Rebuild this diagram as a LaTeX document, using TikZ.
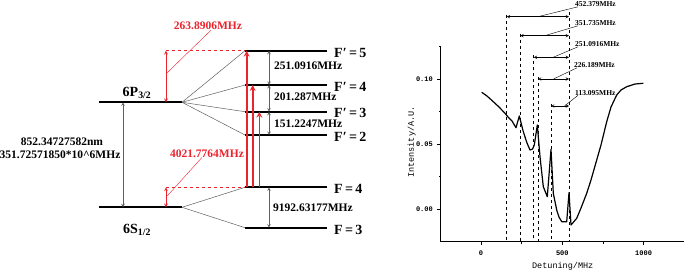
\documentclass[tikz,border=0pt]{standalone}
\usepackage{fontspec}
\setmainfont{Liberation Serif}
\setmonofont{Liberation Mono}
\usepackage{tikz}
\usetikzlibrary{arrows, positioning, calc}
\definecolor{hfred}{RGB}{235,35,45}
\definecolor{fangray}{RGB}{95,95,95}

\begin{document}
\begin{tikzpicture}[
    x=1pt, y=-1pt, >=stealth,
    level/.style={line width=1.8pt, black},
    fan/.style={draw=fangray, line width=0.5pt},
    lvl/.style={font=\fontsize{14}{14}\selectfont\bfseries, inner sep=0pt, anchor=west},
    term/.style={font=\fontsize{14}{14}\selectfont\bfseries, inner sep=0pt},
    freq/.style={font=\fontsize{11.5}{12}\selectfont\bfseries, inner sep=0pt, text=#1},
    freq/.default=black,
    garr/.style={<->, draw=fangray, line width=0.6pt},
    rarr/.style={->, draw=hfred, line width=1.6pt},
    rgap/.style={<->, draw=hfred, line width=0.7pt},
    rdash/.style={dashed, draw=hfred, line width=0.9pt},
    lead/.style={draw=#1, line width=0.4pt},
    axis/.style={black, line width=0.8pt},
    tick/.style={font=\ttfamily\bfseries\fontsize{7}{7}\selectfont, inner sep=0pt},
    axlbl/.style={font=\ttfamily\fontsize{8.5}{9}\selectfont, inner sep=0pt},
    mhz/.style={font=\fontsize{7.5}{8}\selectfont\bfseries, inner sep=0pt, anchor=base west},
    vdash/.style={dashed, black, line width=0.6pt},
    sarr/.style={<->, black, line width=0.5pt},
    curve/.style={black, line width=1.2pt, line join=round},
]
\useasboundingbox (0,0) rectangle (685,271);

% Fine structure levels
\coordinate (p-l) at (99,102.3);  \coordinate (p-r) at (182,102.3);
\coordinate (s-l) at (99,207.3);  \coordinate (s-r) at (182,207.3);
% Hyperfine levels
\coordinate (f5-l) at (245,50.7);  \coordinate (f5-r) at (327,50.7);
\coordinate (f4-l) at (245,85);    \coordinate (f4-r) at (327,85);
\coordinate (f3-l) at (245,111.7); \coordinate (f3-r) at (327,111.7);
\coordinate (f2-l) at (245,135);   \coordinate (f2-r) at (327,135);
\coordinate (g4-l) at (245,187.3); \coordinate (g4-r) at (327,187.3);
\coordinate (g3-l) at (245,227.7); \coordinate (g3-r) at (327,227.7);

\draw[level] (p-l) -- (p-r);
\draw[level] (s-l) -- (s-r);
\draw[level] (f5-l) -- (f5-r);
\draw[level] (f4-l) -- (f4-r);
\draw[level] (f3-l) -- (f3-r);
\draw[level] (f2-l) -- (f2-r);
\draw[level] (g4-l) -- (g4-r);
\draw[level] (g3-l) -- (g3-r);

% Splitting
\draw[fan] (p-r) -- (f5-l);
\draw[fan] (p-r) -- (f4-l);
\draw[fan] (p-r) -- (f3-l);
\draw[fan] (p-r) -- (f2-l);
\draw[fan] (s-r) -- (g4-l);
\draw[fan] (s-r) -- (g3-l);

% Level names
\node[term] (p32) at (137,93) {6P\textsubscript{3/2}};
\node[term] (s12) at (137,230) {6S\textsubscript{1/2}};
\node[lvl] (lf5) at (334,52.5) {F′\,=\,5};
\node[lvl] (lf4) at (334,86.5) {F′\,=\,4};
\node[lvl] (lf3) at (334,113) {F′\,=\,3};
\node[lvl] (lf2) at (334,136.5) {F′\,=\,2};
\node[lvl] (lg4) at (334,189) {F\,=\,4};
\node[lvl] (lg3) at (334,229.5) {F\,=\,3};

% D2 line
\coordinate (wx) at (123,0);
\draw[garr] (wx |- p-l) -- (wx |- s-l);
\node[freq] (wl) at (62,141.7) {852.34727582nm};
\node[freq] (wf) at (60,155) {351.72571850*10\textasciicircum6MHz};

% Hyperfine intervals
\coordinate (kx) at (269,0);
\draw[garr] (kx |- f5-l) -- (kx |- f4-l);
\draw[garr] (kx |- f4-l) -- (kx |- f3-l);
\draw[garr] (kx |- f3-l) -- (kx |- f2-l);
\draw[garr] (kx |- g4-l) -- (kx |- g3-l);
\node[freq, anchor=west] (d54) at (274,66) {251.0916MHz};
\node[freq, anchor=west] (d43) at (274,97) {201.287MHz};
\node[freq, anchor=west] (d32) at (274,124) {151.2247MHz};
\node[freq, anchor=west] (d43g) at (273,208) {9192.63177MHz};

% Shifts from the centre of gravity
\coordinate (hx) at (166,0);
\draw[rdash] (hx |- f5-l) -- (f5-l);
\draw[rgap] (hx |- f5-l) -- (hx |- p-l);
\draw[rdash] (hx |- g4-l) -- (g4-l);
\draw[rgap] (hx |- g4-l) -- (hx |- s-l);
\node[freq=hfred] (h1) at (208,26) {263.8906MHz};
\node[freq=hfred] (h2) at (207,153.3) {4021.7764MHz};
\draw[lead=hfred] ([xshift=3pt]h1.south) -- ($(hx |- f5-l)!0.45!(hx |- p-l)$);
\draw[lead=hfred] ([xshift=-5pt]h2.south) -- ($(hx |- g4-l)!0.5!(hx |- s-l)$);

% Pump transitions
\coordinate (r1) at (246.7,0);
\coordinate (r2) at (252.7,0);
\coordinate (r3) at (259.3,0);
\draw[rarr] (r1 |- g4-l) -- (r1 |- f5-l);
\draw[rarr] (r2 |- g4-l) -- (r2 |- f4-l);
\draw[rarr] (r3 |- g4-l) -- (r3 |- f3-l);

% Axes
\coordinate (o) at (440.7,241.7);
\draw[axis] (440.7,46.5) -- (o) -- (684,241.7);
\draw[axis] (440.7,46.5) -- ++(-2,0);
\draw[axis] (440.7,79) -- ++(-3.5,0);
\draw[axis] (440.7,111.7) -- ++(-2,0);
\draw[axis] (440.7,144.3) -- ++(-3.5,0);
\draw[axis] (440.7,176.8) -- ++(-2,0);
\draw[axis] (440.7,209.3) -- ++(-3.5,0);
\draw[axis] (481,241.7) -- ++(0,3.5);
\draw[axis] (521.6,241.7) -- ++(0,2);
\draw[axis] (562.3,241.7) -- ++(0,3.5);
\draw[axis] (602.9,241.7) -- ++(0,2);
\draw[axis] (643.6,241.7) -- ++(0,3.5);
\node[tick, anchor=east] (t10) at (433,79) {0.10};
\node[tick, anchor=east] (t05) at (433,144.3) {0.05};
\node[tick, anchor=east] (t00) at (433,209.3) {0.00};
\node[tick] (x0) at (481,252.7) {0};
\node[tick] (x500) at (562.3,252.7) {500};
\node[tick] (x1000) at (643.6,252.7) {1000};
\node[axlbl] (xl) at (562.7,266) {Detuning/MHz};
\node[axlbl, rotate=90] (yl) at (411.7,142) {Intensity/A.U.};

% Spectrum
\draw[curve] plot coordinates {
  (481.7,92.3) (487,96) (493.3,101.7) (499,107) (505,113.3) (508.3,117.3)
  (512,121) (516,127.7) (519.3,116) (523.3,131.7) (527,143) (530,150)
  (532.5,149) (534.3,145) (537.3,125) (540,156.7) (543.3,186.7) (547.3,196.7)
  (551,149.3) (553.3,193.3) (556.7,210) (559,217) (561.7,221.7) (566.7,221.7)
  (569,192.7) (571,225) (576.7,218.3) (581,208) (586.7,193.3) (591,180)
  (596.7,160) (601,145) (606.7,121.7) (611,107) (616.7,95) (621,90)
  (626.7,86.7) (635,84) (643.3,83.3)};

% Crossover markers
\coordinate (ref) at (569,12);
\coordinate (a1) at (506.7,16.7);
\coordinate (a2) at (520.3,35.7);
\coordinate (a3) at (533.7,57.3);
\coordinate (a4) at (538,79);
\coordinate (a5) at (551,106);
\draw[vdash] (ref) -- (ref |- o);
\draw[vdash] ([yshift=2pt]a1) -- (a1 |- o);
\draw[vdash] ([yshift=2pt]a2) -- (a2 |- o);
\draw[vdash] ([yshift=2pt]a3) -- (a3 |- o);
\draw[vdash] ([yshift=2pt]a4) -- (a4 |- o);
\draw[vdash] ([yshift=2pt]a5) -- (a5 |- o);
\draw[sarr] (a1) -- (ref |- a1);
\draw[sarr] (a2) -- (ref |- a2);
\draw[sarr] (a3) -- (ref |- a3);
\draw[sarr] (a4) -- (ref |- a4);
\draw[sarr] (a5) -- (ref |- a5);
\node[mhz] (m1) at (575,6.5) {452.379MHz};
\node[mhz] (m2) at (575,25.5) {351.735MHz};
\node[mhz] (m3) at (575,46.5) {251.0916MHz};
\node[mhz] (m4) at (574,67.5) {226.189MHz};
\node[mhz] (m5) at (575,95) {113.095MHz};
\draw[lead=black] ([xshift=3pt]m1.south west) -- ($(a1)!0.5!(ref |- a1)$);
\draw[lead=black] ([xshift=3pt]m2.south west) -- ($(a2)!0.5!(ref |- a2)$);
\draw[lead=black] ([xshift=3pt]m3.south west) -- ($(a3)!0.55!(ref |- a3)$);
\draw[lead=black] ([xshift=3pt]m4.south west) -- ($(a4)!0.5!(ref |- a4)$);
\draw[lead=black] ([xshift=3pt]m5.south west) -- ($(a5)!0.75!(ref |- a5)$);
\end{tikzpicture}
\end{document}
